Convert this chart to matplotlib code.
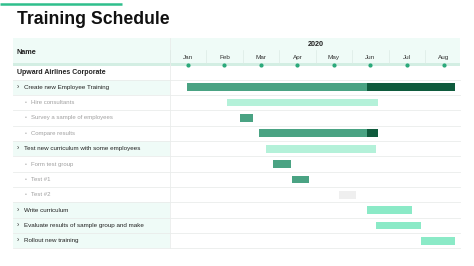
import matplotlib.pyplot as plt
import matplotlib.transforms as mtransforms
from matplotlib.patches import Rectangle
import numpy as np

plt.rcParams['font.family'] = ['Liberation Sans', 'DejaVu Sans']

# data
title = "Training Schedule"
year = "2020"
months = ["Jan", "Feb", "Mar", "Apr", "May", "Jun", "Jul", "Aug"]
month_pos = [1, 2, 3, 4, 5, 6, 7, 8]
group_name = "Upward Airlines Corporate"
tasks = ["Create new Employee Training", "Hire consultants", "Survey a sample of employees",
         "Compare results", "Test new curriculum with some employees", "Form test group",
         "Test #1", "Test #2", "Write curriculum", "Evaluate results of sample group and make",
         "Rollout new training"]
level = [0, 1, 1, 1, 0, 1, 1, 1, 0, 0, 0]
start = [0.96, 2.07, 2.42, 2.95, 3.15, 3.32, 3.84, 5.14, 5.90, 6.15, 7.39]
end = [8.31, 6.21, 2.77, 6.21, 6.15, 3.81, 4.32, 5.61, 7.15, 7.39, 8.31]
late_from = [5.90, np.nan, np.nan, 5.90, np.nan, np.nan, np.nan, np.nan, np.nan, np.nan, np.nan]
kind = ["mid", "pale", "mid", "mid", "pale", "mid", "mid", "grey", "aqua", "aqua", "aqua"]

colors = {"mid": "#4aa383", "pale": "#b4f1d9", "grey": "#efefef", "aqua": "#8beac7"}
dark = "#0f5b3d"
mint = "#effbf7"
line_c = "#eaeceb"

W, H = 474, 266
TOP = 79.6      # top of first task row (px)
ROW_H = 15.35
LEFT, DIV, RIGHT = 13, 170, 460
n = len(tasks)
bottom = TOP + n * ROW_H

fig = plt.figure(figsize=(W / 100, H / 100), dpi=100)
ax = fig.add_axes([0, 0, 1, 1])
ax.set_xlim(0, W)
ax.set_ylim(H, 0)
ax.axis('off')

gx = fig.add_axes([DIV / W, 1 - bottom / H, (RIGHT - DIV) / W, (bottom - TOP) / H])
gx.set_xlim(0.507, 8.452)
gx.set_ylim(n - 0.5, -0.5)
gx.axis('off')

# top accent line + title
ax.plot([0, 122], [4, 4], color="#2fbf8c", lw=1.8, solid_capstyle='butt')
ax.text(17, 19, title, fontsize=12.7, fontweight='bold', va='center', ha='left', color='#111111')

# header band
ax.add_patch(Rectangle((LEFT, 38), RIGHT - LEFT, 25.5, color=mint, lw=0, zorder=0))
ax.add_patch(Rectangle((LEFT, 63.3), RIGHT - LEFT, 2.6, color="#d3eee3", lw=0, zorder=1))
ax.text(17, 52, "Name", fontsize=5.2, fontweight='bold', va='center', color='#222222')

trans = mtransforms.blended_transform_factory(gx.transData, ax.transData)
ax.text(np.mean(month_pos), 45, year, transform=trans, fontsize=5.2, fontweight='bold',
        ha='center', va='center', color='#222222')
for m, lab in zip(month_pos, months):
    ax.text(m, 57.5, lab, transform=trans, fontsize=4.6, ha='center', va='center', color='#333333')
    ax.plot([m - 0.5, m - 0.5], [50, 63], transform=trans, color="#dcebe5", lw=0.5)
ax.scatter(month_pos, [64.5] * len(month_pos), transform=trans, s=4, color="#2aa97a", zorder=3)

# group row
ax.text(17, 72.5, group_name, fontsize=5.0, fontweight='bold', va='center', color='#222222')

# rows
for i, (t, lv) in enumerate(zip(tasks, level)):
    yc = TOP + (i + 0.5) * ROW_H
    if lv == 0:
        ax.add_patch(Rectangle((LEFT, TOP + i * ROW_H), DIV - LEFT, ROW_H, color=mint, lw=0, zorder=0))
        ax.text(17, yc, "›", fontsize=5, va='center', color='#333333')
        ax.text(24, yc, t, fontsize=4.5, va='center', color='#222222')
    else:
        ax.text(25, yc, "•", fontsize=3.5, va='center', color='#aaaaaa')
        ax.text(31, yc, t, fontsize=4.3, va='center', color='#a0a0a0')
for i in range(n + 1):
    y = TOP + i * ROW_H
    ax.plot([LEFT, RIGHT], [y, y], color=line_c, lw=0.6, zorder=1)
ax.plot([DIV, DIV], [38, bottom], color=line_c, lw=0.6, zorder=1)

# bars
ys = np.arange(n)
gx.barh(ys, np.array(end) - np.array(start), left=start, height=0.5,
        color=[colors[k] for k in kind], lw=0)
lf = np.array(late_from)
has = ~np.isnan(lf)
gx.barh(ys[has], np.array(end)[has] - lf[has], left=lf[has], height=0.5, color=dark, lw=0)

fig.savefig("out.png", dpi=100)
